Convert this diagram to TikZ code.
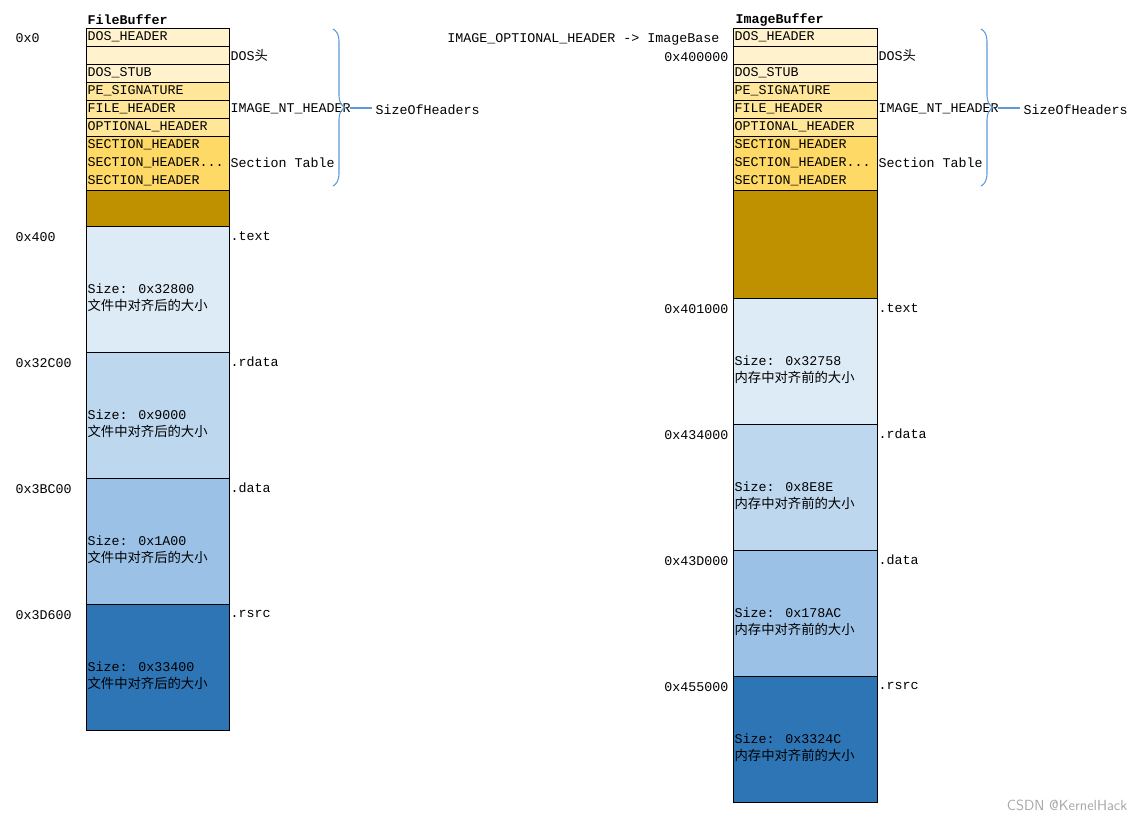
\documentclass[tikz,border=0pt]{standalone}
\usepackage{fontspec}
\setmainfont{Liberation Mono}
\newfontfamily\cjk{Noto Sans CJK SC}
\usetikzlibrary{decorations.pathreplacing}
\definecolor{cA}{HTML}{FFF2CC}
\definecolor{cB}{HTML}{FFE699}
\definecolor{cC}{HTML}{FFD966}
\definecolor{cD}{HTML}{BF9000}
\definecolor{cT}{HTML}{DDEBF7}
\definecolor{cR}{HTML}{BDD7EE}
\definecolor{cDa}{HTML}{9BC2E6}
\definecolor{cS}{HTML}{2E75B6}
\definecolor{brc}{HTML}{5B9BD5}
\tikzset{
  cell/.style={draw=black,line width=0.6pt,inner sep=0pt},
  lab/.style={anchor=west,inner sep=1pt,font=\fontsize{10pt}{12pt}\selectfont},
  sz/.style={anchor=north west,inner sep=1pt,align=left,font=\fontsize{10pt}{13pt}\selectfont},
  brace/.style={draw=brc,line width=0.8pt,decorate,decoration={brace,amplitude=9pt}}
}
\begin{document}
\begin{tikzpicture}[x=0.75pt,y=-0.75pt]
\useasboundingbox (0,0) rectangle (1145,824);
% generic column macro
\newcommand{\mycol}[4]{% #1 prefix, #2 left x, #3 right x, #4 brown bottom
  \fill[cA] (#2,28) rectangle (#3,82);
  \fill[cB] (#2,82) rectangle (#3,136);
  \fill[cC] (#2,136) rectangle (#3,190);
  \fill[cD] (#2,190) rectangle (#3,#4);
  \foreach \a/\b in {28/46,46/64,64/82,82/100,100/118,118/136,136/190,190/#4}
    \draw[line width=0.6pt] (#2,\a) rectangle (#3,\b);
  \node[lab] (#1dh) at (#2,37) {DOS\_HEADER};
  \node[lab] (#1ds) at (#2,73) {DOS\_STUB};
  \node[lab] (#1pe) at (#2,91) {PE\_SIGNATURE};
  \node[lab] (#1fh) at (#2,109) {FILE\_HEADER};
  \node[lab] (#1oh) at (#2,127) {OPTIONAL\_HEADER};
  \node[lab] (#1s1) at (#2,145) {SECTION\_HEADER};
  \node[lab] (#1s2) at (#2,163) {SECTION\_HEADER...};
  \node[lab] (#1s3) at (#2,181) {SECTION\_HEADER};
  \node[lab] (#1dos) at (#3,55) {DOS{\cjk 头}};
  \node[lab] (#1nt) at (#3,109) {IMAGE\_NT\_HEADER};
  \node[lab] (#1st) at (#3,163) {Section Table};
}
\newcommand{\mysec}[8]{% prefix, lx, rx, top, color, name, size, text
  \node[cell,fill=#5,minimum width={(#3-#2)*0.75pt},minimum height={126*0.75pt},anchor=north west] (#1) at (#2,#4) {};
  \node[lab] (#1n) at (#3,#4+10) {#6};
  \node[sz] (#1s) at (#2,#4+56) {Size: #7\\{\cjk #8}};
}
% left
\node[font=\bfseries\fontsize{10pt}{12pt}\selectfont,anchor=west,inner sep=1pt] (fbt) at (86,20) {FileBuffer};
\mycol{L}{86}{229}{226}
\mysec{Lt}{86}{229}{226}{cT}{.text}{0x32800}{文件中对齐后的大小}
\mysec{Lr}{86}{229}{352}{cR}{.rdata}{0x9000}{文件中对齐后的大小}
\mysec{Ld}{86}{229}{478}{cDa}{.data}{0x1A00}{文件中对齐后的大小}
\mysec{Ls}{86}{229}{604}{cS}{.rsrc}{0x33400}{文件中对齐后的大小}
\draw[brace] (333,29) -- (333,186) coordinate[pos=0.5] (Lbm);
\draw[brc,line width=0.8pt] (350,108) -- (372,108) coordinate (Lbt);
\node[lab] (Lsoh) at (374,110) {SizeOfHeaders};
\node[lab] (a0) at (14,38) {0x0};
\node[lab] (a1) at (14,237) {0x400};
\node[lab] (a2) at (14,363) {0x32C00};
\node[lab] (a3) at (14,489) {0x3BC00};
\node[lab] (a4) at (14,615) {0x3D600};
% right
\node[font=\bfseries\fontsize{10pt}{12pt}\selectfont,anchor=west,inner sep=1pt] (ibt) at (734,20) {ImageBuffer};
\mycol{R}{733}{877}{298}
\mysec{Rt}{733}{877}{298}{cT}{.text}{0x32758}{内存中对齐前的大小}
\mysec{Rr}{733}{877}{424}{cR}{.rdata}{0x8E8E}{内存中对齐前的大小}
\mysec{Rd}{733}{877}{550}{cDa}{.data}{0x178AC}{内存中对齐前的大小}
\mysec{Rs}{733}{877}{676}{cS}{.rsrc}{0x3324C}{内存中对齐前的大小}
\draw[brace] (981,29) -- (981,186);
\draw[brc,line width=0.8pt] (998,108) -- (1020,108) coordinate (Rbt);
\node[lab] (Rsoh) at (1022,110) {SizeOfHeaders};
\node[lab,anchor=east] (ib) at (721,39) {IMAGE\_OPTIONAL\_HEADER -> ImageBase};
\node[lab,anchor=east] (b0) at (730,57) {0x400000};
\node[lab,anchor=east] (b1) at (730,309) {0x401000};
\node[lab,anchor=east] (b2) at (730,435) {0x434000};
\node[lab,anchor=east] (b3) at (730,561) {0x43D000};
\node[lab,anchor=east] (b4) at (730,687) {0x455000};
\node[anchor=east,text=gray!70,font=\sffamily\fontsize{11pt}{13pt}\selectfont] (wm) at (1132,805) {CSDN @KernelHack};
\end{tikzpicture}
\end{document}
